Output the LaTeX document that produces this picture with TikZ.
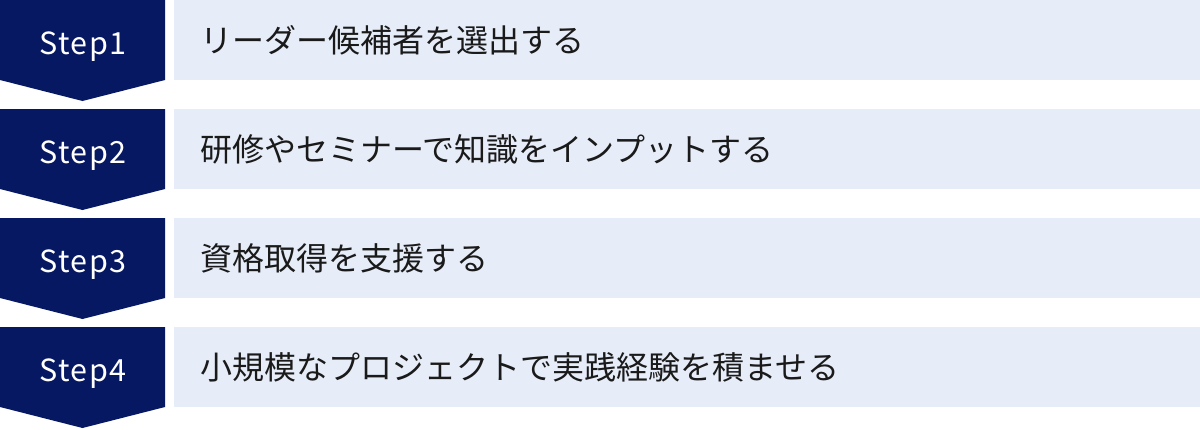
\documentclass[tikz,border=0pt]{standalone}
\usepackage{fontspec}
\setmainfont{Noto Sans CJK JP}
\newfontfamily\jpfont{Noto Sans CJK JP}
\definecolor{navy}{HTML}{061862}
\definecolor{lightbg}{HTML}{E6ECF8}
\definecolor{txt}{HTML}{1A1A1A}
\begin{document}
\begin{tikzpicture}[x=1pt,y=-1pt,
  stepshape/.style={fill=navy,draw=none},
  labelbox/.style={fill=lightbg,draw=none},
  steplabel/.style={text=white,font=\fontsize{30.5}{34}\selectfont\addfontfeature{LetterSpace=5},anchor=base,inner sep=0pt},
  itemtext/.style={text=txt,font=\jpfont\fontsize{32}{35}\selectfont,anchor=west,inner sep=0pt}]
\useasboundingbox (0,0) rectangle (1200,429);
\foreach \i/\t in {0/リーダー候補者を選出する,1/研修やセミナーで知識をインプットする,2/資格取得を支援する,3/小規模なプロジェクトで実践経験を積ませる}{
  \pgfmathsetmacro{\y}{109*\i}
  \fill[stepshape] (0,\y) -- (165,\y) -- (165,\y+80) -- (82.5,\y+101) -- (0,\y+80) -- cycle;
  \fill[labelbox] (174,\y) rectangle (1200,\y+80);
  \pgfmathtruncatemacro{\n}{\i+1}
  \node[steplabel] (s\n) at (83,\y+54) {Step\n};
  \node[itemtext] (t\n) at (200,\y+40) {\t};
}
\end{tikzpicture}
\end{document}
